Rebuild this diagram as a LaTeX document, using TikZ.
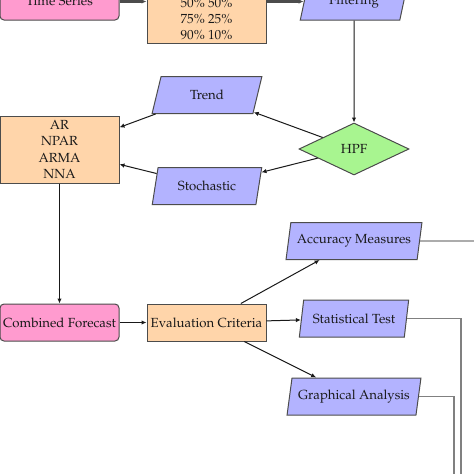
\documentclass[tikz,border=0pt]{standalone}
\usepackage[T1]{fontenc}
\usepackage{mathpazo}
\usetikzlibrary{shapes.geometric,arrows.meta}
\definecolor{pinkc}{HTML}{FF9BCF}
\definecolor{orangec}{HTML}{FFD5AA}
\definecolor{bluec}{HTML}{B3B3FF}
\definecolor{greenc}{HTML}{A8F590}
\begin{document}
\begin{tikzpicture}[x=1pt,y=-1pt,
 base/.style={draw=black!70, line width=1pt, text=black!90, font=\fontsize{13.2}{16.5}\selectfont, inner sep=2pt, align=center},
 startbox/.style={base, fill=pinkc, rounded corners=4pt, minimum width=119pt, minimum height=37pt},
 procbox/.style={base, fill=orangec, minimum width=119pt},
 iobox/.style={base, fill=bluec, trapezium, trapezium left angle=75, trapezium right angle=105, trapezium stretches=true, minimum height=37pt},
 decbox/.style={base, fill=greenc, diamond, minimum width=110pt, minimum height=52pt},
 plaintext/.style={text=black!90, font=\fontsize{13.2}{16}\selectfont, align=center, inner sep=0pt},
 arr/.style={-{Latex[length=5pt,width=4.5pt]}, line width=1pt, black!90},
 toparr/.style={arr, line width=2.2pt, black!70},
 link/.style={draw=black!50, line width=1.1pt}]
\useasboundingbox (0,0) rectangle (474,474);
\clip (0,0) rectangle (474,474);
% nodes
\node[startbox] (ts) at (59.5,1.5) {Time Series};
\node[procbox, minimum height=80pt] (split) at (206.5,3) {};
\node[plaintext] (splittxt) at (206.5,19) {50\% 50\%\\75\% 25\%\\90\% 10\%};
\node[iobox, minimum width=108pt] (filt) at (354,1.5) {Filtering};
\node[decbox] (hpf) at (354,149) {HPF};
\node[iobox, minimum width=110pt] (trend) at (207,95) {Trend};
\node[iobox, minimum width=110pt] (stoch) at (207,186) {Stochastic};
\node[procbox, minimum height=67pt] (models) at (59.5,149.5) {AR\\NPAR\\ARMA\\NNA};
\node[startbox] (cf) at (59.5,322.5) {Combined Forecast};
\node[procbox, minimum height=37pt] (ec) at (206.5,322.5) {Evaluation Criteria};
\node[iobox, minimum width=136pt] (am) at (354,241) {Accuracy Measures};
\node[iobox, minimum width=110pt] (st) at (354,318.5) {Statistical Test};
\node[iobox, minimum width=134pt] (ga) at (354,396.5) {Graphical Analysis};
% arrows
\draw[toparr] (ts.east) -- (split.west |- ts.east);
\draw[toparr] (split.east |- filt.west) -- (filt.west);
\draw[arr] (filt) -- (hpf);
\draw[arr] (hpf) -- (trend);
\draw[arr] (hpf) -- (stoch);
\draw[arr] (trend) -- (models);
\draw[arr] (stoch) -- (models);
\draw[arr] (models) -- (cf);
\draw[arr] (cf) -- (ec);
\draw[arr] (ec) -- (am);
\draw[arr] (ec) -- (st);
\draw[arr] (ec) -- (ga);
% outgoing grey lines
\coordinate (amout) at (490,241);
\coordinate (stout) at (461,490);
\coordinate (gaout) at (454,490);
\draw[link] (am.east) -- (amout);
\draw[link] (st.east) -- (st.east -| stout) -- (stout);
\draw[link] (ga.east) -- (ga.east -| gaout) -- (gaout);
\end{tikzpicture}
\end{document}
